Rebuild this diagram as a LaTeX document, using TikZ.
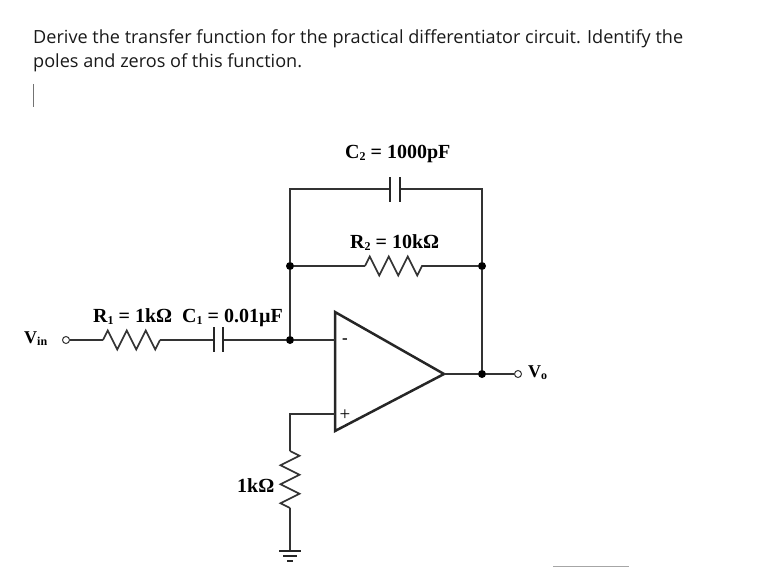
\documentclass[tikz,border=0pt]{standalone}
\usepackage{fontspec}
\setmainfont{Liberation Serif}
\newfontfamily\promptfont{Open Sans}
\usetikzlibrary{decorations.pathmorphing}
\newcommand{\lowsub}[1]{\raisebox{-.25ex}{\fontsize{12}{12}\selectfont #1}}
\tikzstyle{wire}=[draw=black!80,line width=1.6pt]
\tikzstyle{plate}=[draw=black!85,line width=2.2pt]
\tikzstyle{res}=[wire,line join=miter,decorate,decoration={zigzag,segment length=19pt,amplitude=9.5pt}]
\tikzstyle{dot}=[circle,fill=black,inner sep=0pt,minimum size=8pt]
\tikzstyle{term}=[circle,draw=black!80,fill=white,line width=1pt,inner sep=0pt,minimum size=7pt]
\tikzstyle{val}=[anchor=base west,inner sep=0pt,font=\bfseries\fontsize{20}{20}\selectfont]
\tikzstyle{prompt}=[anchor=base west,inner sep=0pt,font=\promptfont\fontsize{18.1}{22}\selectfont,text=black!90]
\begin{document}
\begin{tikzpicture}[x=1pt,y=-1pt]
    \useasboundingbox (0,0) rectangle (775,567);
    \node[prompt] (line1) at (33,44) {Derive the transfer function for the practical differentiator circuit. Identify the};
    \node[prompt] (line2) at (33,68) {poles and zeros of this function.};
    \draw[black!55,line width=.8pt] (33,84) -- (33,107);
    \draw[black!35,line width=.9pt] (553,567) -- (553,566) -- (628,566) -- (628,567);
    \foreach \n/\x/\y in {n1/290/340, n2/290/266, n3/482/266, n4/482/374} \node[dot] (\n) at (\x,\y) {};
    \foreach \n/\x/\y in {vin/66/340, vo/518/374} \node[term] (\n) at (\x,\y) {};
    \foreach \n/\x/\y in {r1a/103/340, r1b/160/340, c1a/214/340, c1b/223/340, c2a/390/189, c2b/400/189, r2a/365/266, r2b/423/266, r3a/290/451, r3b/290/508, tl/290/189, tr/482/189, inm/335/340, inp/335/414, gp/290/414, gnd/290/551, ot/335/312, ob/335/431, oo/444/374} \coordinate (\n) at (\x,\y);
    \draw[plate,line width=2.5pt,line join=miter] (ot) -- (ob) -- (oo) -- cycle;
    \draw[wire] (vin) -- (r1a) (r1b) -- (c1a) (c1b) -- (n1) -- (inm);
    \draw[wire] (n1) -- (n2) -- (tl) -- (c2a) (c2b) -- (tr) -- (n3) -- (n4);
    \draw[wire] (n2) -- (r2a) (r2b) -- (n3) (oo) -- (n4) -- (vo);
    \draw[wire] (inp) -- (gp) -- (r3a) (r3b) -- (gnd);
    \draw[res] (r1a) -- (r1b);
    \draw[res] (r2a) -- (r2b);
    \draw[res] (r3a) -- (r3b);
    \foreach \xa/\ya/\xb/\yb in {214/327/214/352, 223/327/223/352, 390/177/390/202, 400/177/400/202, 279/551/301/551, 283/556/297/556, 287/561/293/561} \draw[plate] (\xa,\ya) -- (\xb,\yb);
    \node[val] (r1lab) at (93,322) {R\lowsub{1} = 1kΩ};
    \node[val] (c1lab) at (182,322) {C\lowsub{1} = 0.01µF};
    \node[val] (c2lab) at (345,158) {C\lowsub{2} = 1000pF};
    \node[val] (r2lab) at (350,248) {R\lowsub{2} = 10kΩ};
    \node[val] (r3lab) at (237,492) {1kΩ};
    \node[val,font=\bfseries\fontsize{18}{18}\selectfont] (vinlab) at (24,343) {V\lowsub{in}};
    \node[val,font=\bfseries\fontsize{18}{18}\selectfont] (volab) at (528,377) {V\lowsub{o}};
    \node[inner sep=0pt,font=\bfseries\fontsize{17}{17}\selectfont] (minus) at (345,341) {-};
    \node[inner sep=0pt,font=\fontsize{19}{19}\selectfont] (plus) at (345,415) {+};
\end{tikzpicture}
\end{document}
